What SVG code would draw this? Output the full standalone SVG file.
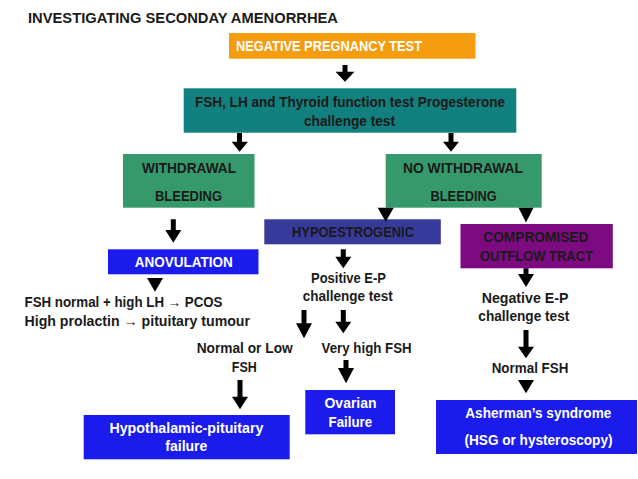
<svg xmlns="http://www.w3.org/2000/svg" width="638" height="479" viewBox="0 0 638 479">
<style>
text{font-family:"Liberation Sans",Arial,sans-serif;font-weight:bold;font-size:14px;text-anchor:start}
.d{fill:#1a1a1a}
.w{fill:#ffffff}
.arr{fill:#000000}
</style>
<rect width="638" height="479" fill="#ffffff"/>
<text id="title" x="28" y="22.7" font-size="15" class="d" textLength="310" lengthAdjust="spacingAndGlyphs">INVESTIGATING SECONDAY AMENORRHEA</text>

<g id="neg-preg">
<rect x="229" y="33" width="246.5" height="25.7" fill="#F59D0F"/>
<text x="236" y="50.7" class="w" textLength="186" lengthAdjust="spacingAndGlyphs">NEGATIVE PREGNANCY TEST</text>
</g>
<g id="tests">
<rect x="183.7" y="88.3" width="332.6" height="44.4" fill="#12807E"/>
<text x="195" y="106.7" class="d" textLength="310" lengthAdjust="spacingAndGlyphs">FSH, LH and Thyroid function test Progesterone</text>
<text x="304" y="125.7" class="d" textLength="91" lengthAdjust="spacingAndGlyphs">challenge test</text>
</g>
<g id="withdrawal">
<rect x="123" y="154" width="131.5" height="53.7" fill="#36996B"/>
<text x="142" y="172.7" class="d" textLength="94" lengthAdjust="spacingAndGlyphs">WITHDRAWAL</text>
<text x="155" y="200.7" class="d" textLength="67" lengthAdjust="spacingAndGlyphs">BLEEDING</text>
</g>
<g id="no-withdrawal">
<rect x="385.7" y="154" width="156" height="53.7" fill="#36996B"/>
<text x="403" y="172.7" class="d" textLength="120" lengthAdjust="spacingAndGlyphs">NO WITHDRAWAL</text>
<text x="430.6" y="200.7" class="d" textLength="66" lengthAdjust="spacingAndGlyphs">BLEEDING</text>
</g>
<g id="hypoestrogenic">
<rect x="264.3" y="219.3" width="176.5" height="25" fill="#37399B"/>
<text x="292" y="237.3" class="d" textLength="122" lengthAdjust="spacingAndGlyphs">HYPOESTROGENIC</text>
</g>
<g id="compromised">
<rect x="460.5" y="224" width="152.3" height="44.3" fill="#7D0A80"/>
<text x="483.3" y="242.3" class="d" textLength="105" lengthAdjust="spacingAndGlyphs">COMPROMISED</text>
<text x="480" y="260.7" class="d" textLength="113" lengthAdjust="spacingAndGlyphs">OUTFLOW TRACT</text>
</g>
<g id="anovulation">
<rect x="108" y="249.3" width="150.5" height="25" fill="#1B1BEB"/>
<text x="134.7" y="266.7" class="w" textLength="98" lengthAdjust="spacingAndGlyphs">ANOVULATION</text>
</g>
<g id="anov-causes">
<text x="24.5" y="307.3" class="d" textLength="198" lengthAdjust="spacingAndGlyphs">FSH normal + high LH → PCOS</text>
<text x="24.5" y="326" class="d" textLength="225.5" lengthAdjust="spacingAndGlyphs">High prolactin → pituitary tumour</text>
</g>
<g id="positive-ep">
<text x="311" y="282.7" class="d" textLength="75" lengthAdjust="spacingAndGlyphs">Positive E-P</text>
<text x="302.7" y="300.7" class="d" textLength="90" lengthAdjust="spacingAndGlyphs">challenge test</text>
</g>
<g id="negative-ep">
<text x="481.7" y="303.3" class="d" textLength="86.7" lengthAdjust="spacingAndGlyphs">Negative E-P</text>
<text x="478.3" y="320.7" class="d" textLength="91" lengthAdjust="spacingAndGlyphs">challenge test</text>
</g>
<g id="normal-low-fsh">
<text x="196.7" y="353.3" class="d" textLength="96" lengthAdjust="spacingAndGlyphs">Normal or Low</text>
<text x="231.8" y="371.7" class="d" textLength="25" lengthAdjust="spacingAndGlyphs">FSH</text>
</g>
<g id="very-high-fsh">
<text x="321.6" y="353.3" class="d" textLength="90" lengthAdjust="spacingAndGlyphs">Very high FSH</text>
</g>
<g id="normal-fsh">
<text x="491.7" y="373.3" class="d" textLength="76.7" lengthAdjust="spacingAndGlyphs">Normal FSH</text>
</g>
<g id="ovarian-failure">
<rect x="305.3" y="390" width="89.7" height="44.3" fill="#1B1BEB"/>
<text x="324.5" y="408.3" class="w" textLength="52" lengthAdjust="spacingAndGlyphs">Ovarian</text>
<text x="328.6" y="426.7" class="w" textLength="43.6" lengthAdjust="spacingAndGlyphs">Failure</text>
</g>
<g id="hypothalamic">
<rect x="83.7" y="415" width="206" height="44.3" fill="#1B1BEB"/>
<text x="109.4" y="432.7" class="w" textLength="154" lengthAdjust="spacingAndGlyphs">Hypothalamic-pituitary</text>
<text x="165.3" y="450.7" class="w" textLength="42" lengthAdjust="spacingAndGlyphs">failure</text>
</g>
<g id="asherman">
<rect x="436" y="400" width="201" height="54" fill="#1B1BEB"/>
<text x="465.3" y="418.3" class="w" textLength="146" lengthAdjust="spacingAndGlyphs">Asherman’s syndrome</text>
<text x="464.5" y="445" class="w" textLength="148" lengthAdjust="spacingAndGlyphs">(HSG or hysteroscopy)</text>
</g>

<g id="connectors" class="arr">
<polygon points="342.5,65 347.5,65 347.5,71.7 354.5,71.7 345,81.7 335.5,71.7 342.5,71.7"/>
<polygon points="237,133 242,133 242,141.7 248,141.7 239.6,151.7 231.6,141.7 237,141.7"/>
<polygon points="448.5,133 453.5,133 453.5,141.7 459,141.7 451,151.7 443,141.7 448.5,141.7"/>
<polygon points="170.8,219.3 175.8,219.3 175.8,230 181.3,230 173.3,242.7 165.3,230 170.8,230"/>
<polygon points="377.7,207.7 393.7,207.7 385.7,221.7"/>
<polygon points="518.5,207.7 533.5,207.7 526,222.5"/>
<polygon points="147,278 163,278 155,291.7"/>
<polygon points="340.8,249.3 345.8,249.3 345.8,256.7 351.3,256.7 343.3,268.3 335.3,256.7 340.8,256.7"/>
<polygon points="301.5,310 306.5,310 306.5,323.3 312,323.3 304,338.3 296,323.3 301.5,323.3"/>
<polygon points="340.8,310 345.8,310 345.8,321.7 351.3,321.7 343.3,333.3 335.3,321.7 340.8,321.7"/>
<polygon points="343.5,360 348.5,360 348.5,368 354,368 346,383.3 338,368 343.5,368"/>
<polygon points="237.5,380 242.5,380 242.5,396.7 248,396.7 240,409.3 232,396.7 237.5,396.7"/>
<polygon points="523.5,268.3 528.5,268.3 528.5,274 534,274 526,287 518,274 523.5,274"/>
<polygon points="523.5,330 528.5,330 528.5,346.7 534,346.7 526,358.3 518,346.7 523.5,346.7"/>
<polygon points="518,380 534,380 526,393.3"/>
</g>
</svg>
